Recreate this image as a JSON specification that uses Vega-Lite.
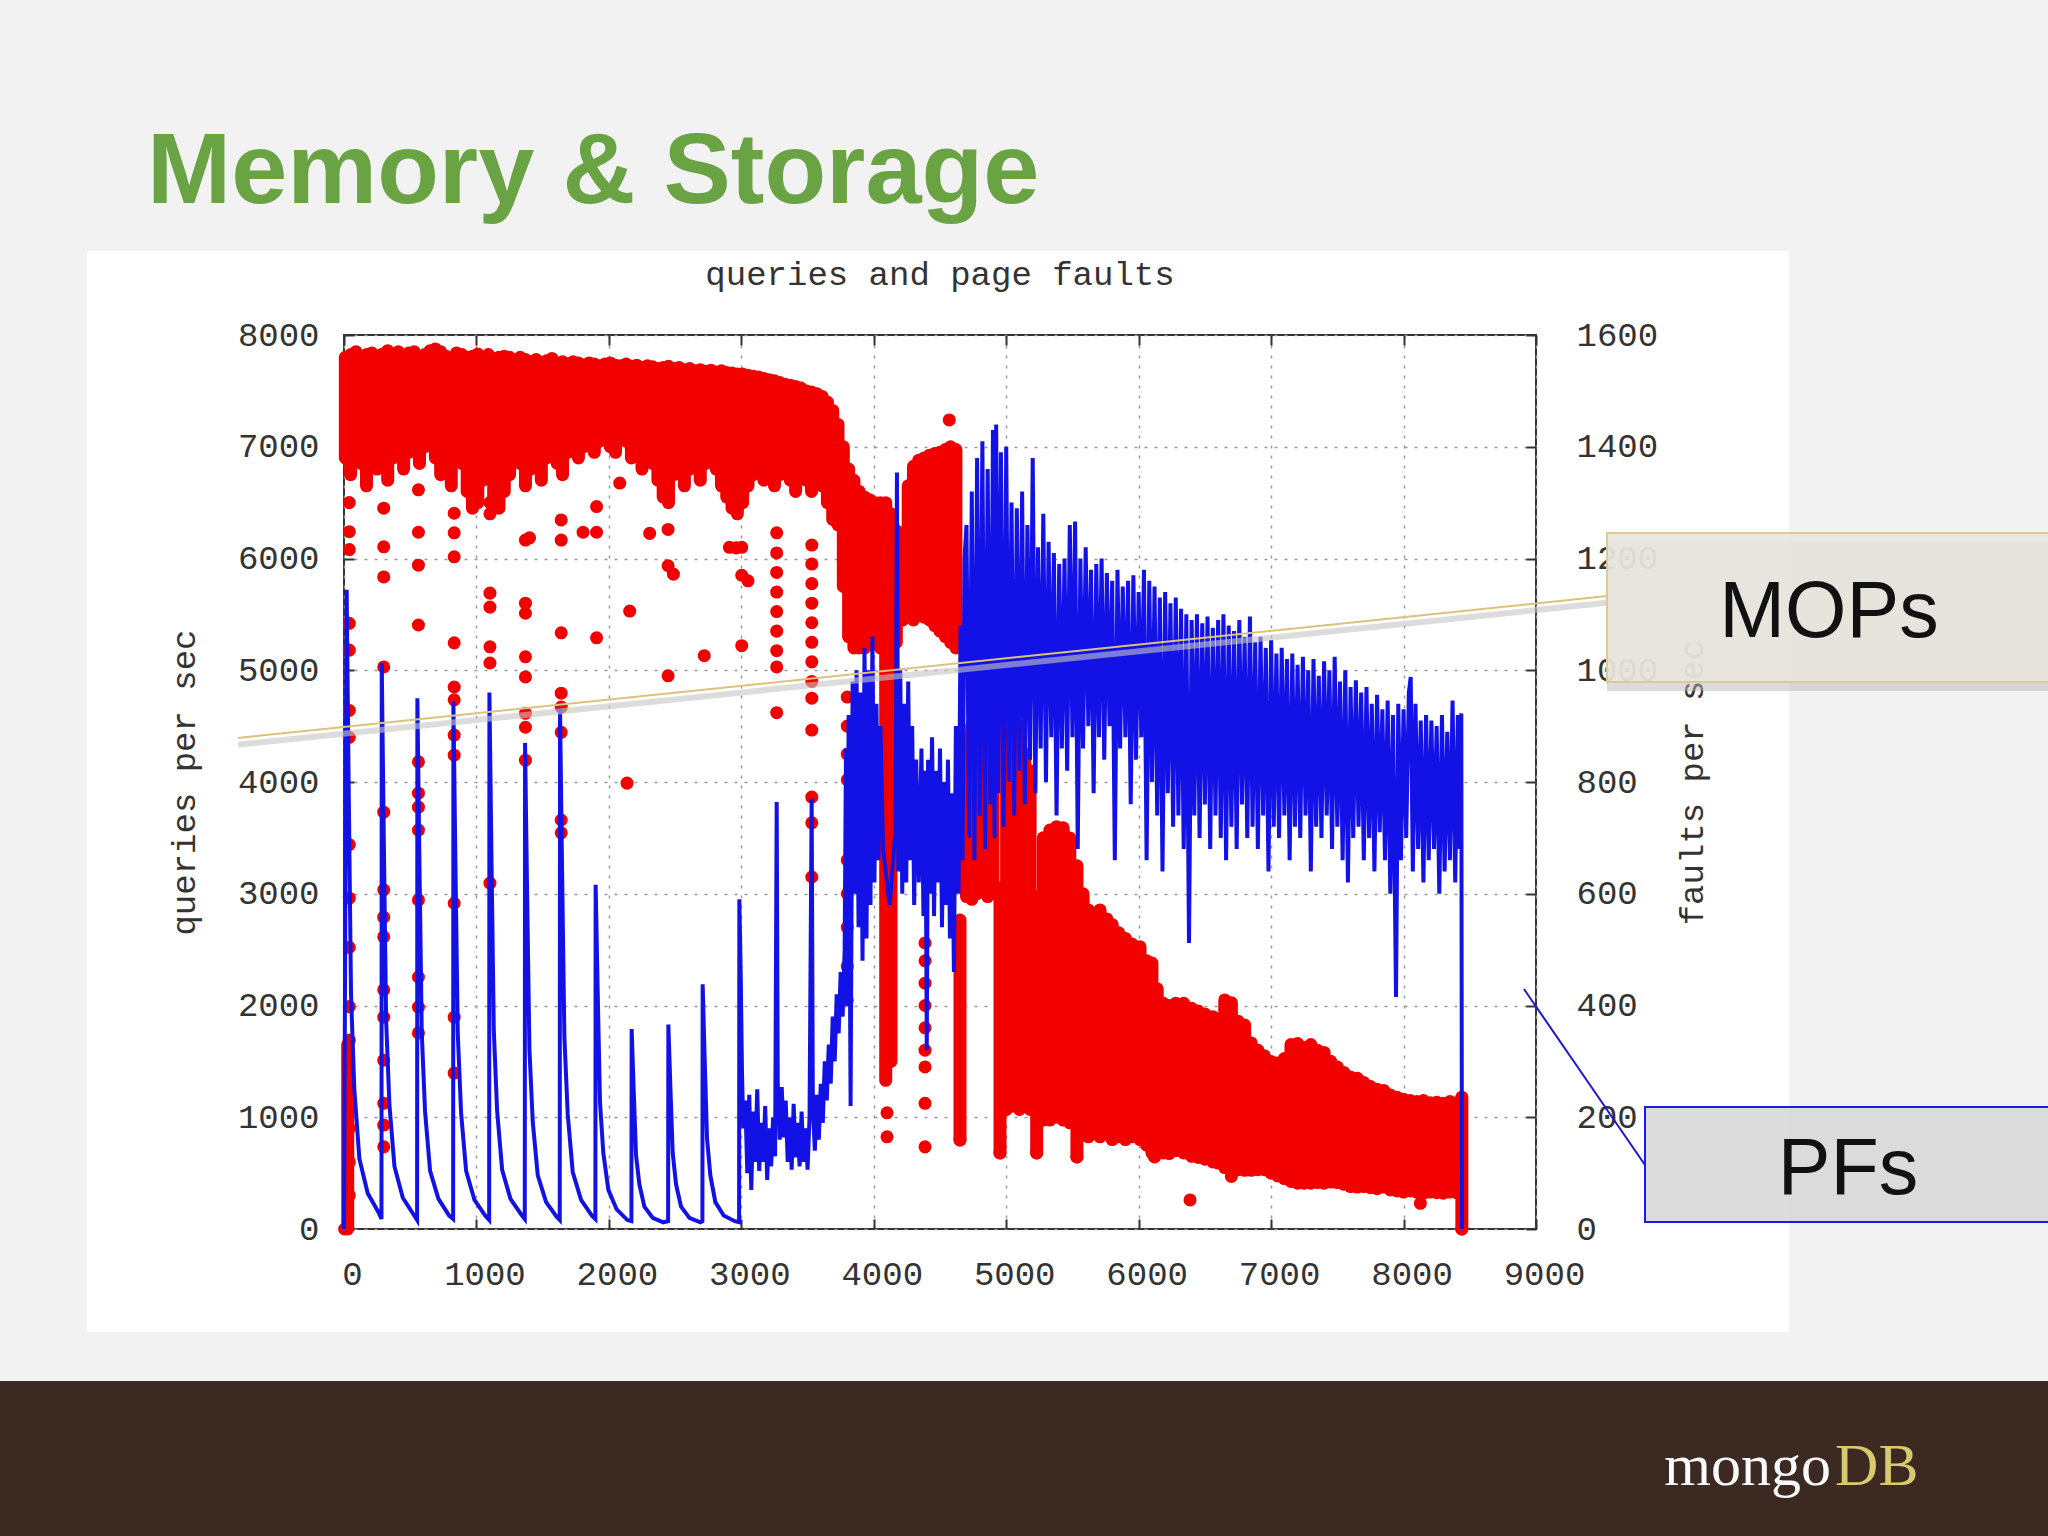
{
  "$schema": "https://vega.github.io/schema/vega-lite/v6.json",
  "width": 1192,
  "height": 894,
  "autosize": {"type": "none"},
  "padding": {"left": 344, "top": 335, "right": 512, "bottom": 307},
  "background": "#ffffff",
  "config": {
    "view": {"stroke": "#333333", "strokeWidth": 2, "fill": "#ffffff"},
    "axis": {
      "labelFont": "Liberation Mono",
      "labelFontSize": 34,
      "labelColor": "#333333",
      "labelFlush": false,
      "titleFont": "Liberation Mono",
      "titleFontSize": 34,
      "titleFontWeight": "normal",
      "titleColor": "#333333",
      "domain": false,
      "format": "d",
      "tickSize": -10,
      "tickWidth": 2,
      "tickColor": "#333333",
      "gridColor": "#9a9a9a",
      "gridDash": [3, 7],
      "gridWidth": 1.5,
      "gridOpacity": 1
    }
  },
  "datasets": {
    "queries": [
      {"t":0,"q":0},{"t":20,"q":5720},{"t":35,"q":4000},{"t":53,"q":2100},{"t":78,"q":1250},{"t":116,"q":630},{"t":179,"q":320},{"t":260,"q":150},
      {"t":283,"q":90},{"t":285,"q":5060},{"t":300,"q":3540},{"t":318,"q":1870},{"t":343,"q":1110},{"t":381,"q":560},{"t":444,"q":280},{"t":525,"q":130},
      {"t":552,"q":80},{"t":554,"q":4750},{"t":569,"q":3330},{"t":587,"q":1760},{"t":612,"q":1050},{"t":650,"q":520},{"t":713,"q":270},{"t":794,"q":120},
      {"t":824,"q":90},{"t":826,"q":4720},{"t":841,"q":3300},{"t":859,"q":1750},{"t":884,"q":1040},{"t":922,"q":520},{"t":985,"q":260},{"t":1066,"q":120},
      {"t":1096,"q":80},{"t":1098,"q":4800},{"t":1113,"q":3360},{"t":1131,"q":1780},{"t":1156,"q":1060},{"t":1194,"q":530},{"t":1257,"q":270},{"t":1338,"q":130},
      {"t":1365,"q":90},{"t":1367,"q":4350},{"t":1382,"q":3050},{"t":1400,"q":1610},{"t":1425,"q":960},{"t":1463,"q":480},{"t":1526,"q":240},{"t":1605,"q":110},
      {"t":1629,"q":80},{"t":1631,"q":4660},{"t":1646,"q":3260},{"t":1664,"q":1720},{"t":1689,"q":1030},{"t":1727,"q":510},{"t":1790,"q":260},{"t":1872,"q":120},
      {"t":1898,"q":90},{"t":1900,"q":3080},{"t":1915,"q":2150},{"t":1933,"q":1130},{"t":1958,"q":680},{"t":1996,"q":350},{"t":2059,"q":175},{"t":2140,"q":80},
      {"t":2170,"q":70},{"t":2172,"q":1790},{"t":2187,"q":1250},{"t":2205,"q":660},{"t":2230,"q":400},{"t":2268,"q":200},{"t":2331,"q":100},{"t":2410,"q":60},
      {"t":2447,"q":70},{"t":2449,"q":1830},{"t":2464,"q":1280},{"t":2482,"q":680},{"t":2507,"q":400},{"t":2545,"q":200},{"t":2608,"q":100},{"t":2690,"q":60},
      {"t":2706,"q":70},{"t":2708,"q":2190},{"t":2723,"q":1530},{"t":2741,"q":810},{"t":2766,"q":480},{"t":2804,"q":240},{"t":2867,"q":120},{"t":2950,"q":70},
      {"t":2983,"q":60},{"t":2985,"q":2950},{"t":2995,"q":2300},{"t":3005,"q":1400},{"t":3015,"q":900},{"t":3030,"q":1150},{"t":3045,"q":500},{"t":3060,"q":1200},
      {"t":3075,"q":350},{"t":3090,"q":1050},{"t":3105,"q":600},{"t":3120,"q":1250},{"t":3135,"q":520},{"t":3150,"q":950},{"t":3165,"q":600},{"t":3180,"q":1100},
      {"t":3195,"q":440},{"t":3210,"q":900},{"t":3225,"q":560},{"t":3240,"q":1000},{"t":3255,"q":650},{"t":3267,"q":3820},{"t":3275,"q":1300},{"t":3290,"q":800},
      {"t":3305,"q":1270},{"t":3320,"q":820},{"t":3335,"q":1150},{"t":3350,"q":600},{"t":3365,"q":1000},{"t":3380,"q":530},{"t":3395,"q":1120},{"t":3410,"q":640},
      {"t":3425,"q":950},{"t":3440,"q":560},{"t":3455,"q":1050},{"t":3470,"q":600},{"t":3485,"q":900},{"t":3500,"q":530},{"t":3515,"q":1000},{"t":3531,"q":3850},
      {"t":3540,"q":1100},{"t":3555,"q":700},{"t":3570,"q":1200},{"t":3585,"q":800},{"t":3600,"q":1300},{"t":3615,"q":950},{"t":3630,"q":1500},{"t":3645,"q":1150},
      {"t":3660,"q":1650},{"t":3675,"q":1300},{"t":3690,"q":1900},{"t":3705,"q":1500},{"t":3720,"q":2100},{"t":3735,"q":1750},{"t":3750,"q":2300},{"t":3765,"q":1900},
      {"t":3780,"q":2500},{"t":3790,"q":4300},{"t":3800,"q":2000},{"t":3810,"q":4600},{"t":3825,"q":1100},{"t":3840,"q":4900},{"t":3855,"q":3000},{"t":3870,"q":5000},
      {"t":3885,"q":2700},{"t":3900,"q":4800},{"t":3915,"q":2400},{"t":3930,"q":5200},{"t":3945,"q":2600},{"t":3960,"q":5000},{"t":3975,"q":2900},{"t":3990,"q":5300},
      {"t":4005,"q":3100},{"t":4020,"q":4700},{"t":4035,"q":3300},{"t":4050,"q":4500},{"t":4070,"q":3400},{"t":4120,"q":2900},{"t":4165,"q":3600},{"t":4175,"q":6770},
      {"t":4185,"q":3200},{"t":4200,"q":5000},{"t":4215,"q":3000},{"t":4230,"q":4700},{"t":4245,"q":3100},{"t":4260,"q":4900},{"t":4275,"q":3300},{"t":4290,"q":4500},
      {"t":4305,"q":2900},{"t":4320,"q":4200},{"t":4340,"q":3100},{"t":4360,"q":4300},{"t":4375,"q":2800},{"t":4390,"q":4100},{"t":4400,"q":1600},{"t":4410,"q":4200},
      {"t":4425,"q":3000},{"t":4440,"q":4400},{"t":4455,"q":2800},{"t":4470,"q":4100},{"t":4485,"q":3100},{"t":4500,"q":4300},{"t":4515,"q":2700},{"t":4530,"q":4000},
      {"t":4545,"q":2900},{"t":4560,"q":4200},{"t":4575,"q":2600},{"t":4590,"q":3900},{"t":4605,"q":2300},{"t":4620,"q":4500},{"t":4640,"q":3000},{"t":4655,"q":5400},
      {"t":4670,"q":3300},{"t":4685,"q":6000},
      {"t":4700,"q":6300},{"t":4720,"q":3500},{"t":4740,"q":6600},{"t":4760,"q":3300},{"t":4780,"q":6900},{"t":4800,"q":3700},{"t":4820,"q":7050},{"t":4840,"q":3400},
      {"t":4860,"q":6800},{"t":4880,"q":3800},{"t":4900,"q":7150},{"t":4912,"q":3500},{"t":4924,"q":7200},{"t":4940,"q":3900},{"t":4960,"q":6950},{"t":4980,"q":3600},
      {"t":5000,"q":7000},{"t":5020,"q":4000},{"t":5040,"q":6500},{"t":5060,"q":3700},{"t":5080,"q":6450},{"t":5100,"q":4100},{"t":5120,"q":6600},{"t":5140,"q":3800},
      {"t":5160,"q":6300},{"t":5180,"q":4200},{"t":5200,"q":6900},{"t":5220,"q":3900},{"t":5240,"q":6100},{"t":5260,"q":4300},{"t":5280,"q":6400},{"t":5300,"q":4000},
      {"t":5320,"q":6150},{"t":5340,"q":4400},{"t":5360,"q":6050},{"t":5380,"q":3700},{"t":5400,"q":5950},{"t":5420,"q":4300},{"t":5440,"q":6000},{"t":5460,"q":4100},
      {"t":5480,"q":6300},{"t":5500,"q":4400},{"t":5520,"q":6330},{"t":5540,"q":3400},{"t":5560,"q":6000},{"t":5580,"q":4300},{"t":5600,"q":6100},{"t":5620,"q":4500},
      {"t":5640,"q":5900},{"t":5660,"q":3900},{"t":5680,"q":5950},{"t":5700,"q":4400},{"t":5720,"q":6000},{"t":5740,"q":4200},{"t":5760,"q":5870},{"t":5780,"q":4500},
      {"t":5800,"q":5800},{"t":5820,"q":3300},{"t":5840,"q":5900},{"t":5860,"q":4300},{"t":5880,"q":5750},{"t":5900,"q":4400},{"t":5920,"q":5800},{"t":5940,"q":3800},
      {"t":5960,"q":5850},{"t":5980,"q":4200},{"t":6000,"q":5700},{"t":6020,"q":4400},{"t":6040,"q":5900},{"t":6060,"q":3300},{"t":6080,"q":5800},{"t":6100,"q":4000},
      {"t":6120,"q":5750},{"t":6140,"q":3700},{"t":6160,"q":5650},{"t":6180,"q":3200},{"t":6200,"q":5700},{"t":6220,"q":3900},{"t":6240,"q":5600},{"t":6260,"q":3600},
      {"t":6280,"q":5650},{"t":6300,"q":3700},{"t":6320,"q":5550},{"t":6340,"q":3400},{"t":6360,"q":5500},{"t":6380,"q":2560},{"t":6400,"q":5450},{"t":6420,"q":3700},
      {"t":6440,"q":5500},{"t":6460,"q":3500},{"t":6480,"q":5420},{"t":6500,"q":3800},{"t":6520,"q":5480},{"t":6540,"q":3400},{"t":6560,"q":5380},{"t":6580,"q":3700},
      {"t":6600,"q":5450},{"t":6620,"q":3500},{"t":6640,"q":5500},{"t":6660,"q":3300},{"t":6680,"q":5400},{"t":6700,"q":3600},{"t":6720,"q":5350},{"t":6740,"q":3400},
      {"t":6760,"q":5450},{"t":6780,"q":3800},{"t":6800,"q":5300},{"t":6820,"q":3500},{"t":6840,"q":5480},{"t":6860,"q":3600},{"t":6880,"q":5250},{"t":6900,"q":3400},
      {"t":6920,"q":5300},{"t":6940,"q":3700},{"t":6960,"q":5200},{"t":6980,"q":3200},{"t":7000,"q":5270},{"t":7020,"q":3600},{"t":7040,"q":5150},{"t":7060,"q":3500},
      {"t":7080,"q":5200},{"t":7100,"q":3700},{"t":7120,"q":5100},{"t":7140,"q":3300},{"t":7160,"q":5150},{"t":7180,"q":3600},{"t":7200,"q":5050},{"t":7220,"q":3500},
      {"t":7240,"q":5120},{"t":7260,"q":3700},{"t":7280,"q":5000},{"t":7300,"q":3200},{"t":7320,"q":5100},{"t":7340,"q":3600},{"t":7360,"q":4950},{"t":7380,"q":3500},
      {"t":7400,"q":5080},{"t":7420,"q":3700},{"t":7440,"q":5000},{"t":7460,"q":3400},{"t":7480,"q":5120},{"t":7500,"q":3600},{"t":7520,"q":4900},{"t":7540,"q":3300},
      {"t":7560,"q":5000},{"t":7580,"q":3100},{"t":7600,"q":4850},{"t":7620,"q":3500},{"t":7640,"q":4910},{"t":7660,"q":3600},{"t":7680,"q":4800},{"t":7700,"q":3300},
      {"t":7720,"q":4850},{"t":7740,"q":3500},{"t":7760,"q":4700},{"t":7780,"q":3200},{"t":7800,"q":4780},{"t":7820,"q":3550},{"t":7840,"q":4650},{"t":7860,"q":3300},
      {"t":7880,"q":4730},{"t":7900,"q":3000},{"t":7920,"q":4600},{"t":7943,"q":2076},{"t":7960,"q":4700},{"t":7980,"q":3300},{"t":8000,"q":4650},{"t":8020,"q":3500},
      {"t":8040,"q":4800},{"t":8054,"q":4940},{"t":8070,"q":3200},{"t":8090,"q":4700},{"t":8110,"q":3400},{"t":8130,"q":4550},{"t":8150,"q":3100},{"t":8170,"q":4600},
      {"t":8190,"q":3300},{"t":8210,"q":4550},{"t":8230,"q":3400},{"t":8250,"q":4500},{"t":8270,"q":3000},{"t":8290,"q":4600},{"t":8310,"q":3200},{"t":8330,"q":4450},
      {"t":8350,"q":3300},{"t":8370,"q":4730},{"t":8390,"q":3100},{"t":8410,"q":4600},{"t":8425,"q":3400},{"t":8436,"q":4614},{"t":8441,"q":0}
    ],
    "faultRange": [
      {"t":28,"lo":0,"hi":330},
      {"t":10,"lo":1380,"hi":1560},{"t":50,"lo":1350,"hi":1565},{"t":90,"lo":1400,"hi":1570},{"t":130,"lo":1370,"hi":1560},{"t":170,"lo":1330,"hi":1565},
      {"t":210,"lo":1390,"hi":1568},{"t":250,"lo":1360,"hi":1560},{"t":290,"lo":1400,"hi":1566},{"t":330,"lo":1340,"hi":1572},{"t":370,"lo":1380,"hi":1565},
      {"t":410,"lo":1410,"hi":1570},{"t":450,"lo":1360,"hi":1562},{"t":490,"lo":1390,"hi":1568},{"t":530,"lo":1420,"hi":1570},{"t":570,"lo":1370,"hi":1560},
      {"t":610,"lo":1400,"hi":1565},{"t":650,"lo":1430,"hi":1572},{"t":690,"lo":1380,"hi":1575},{"t":730,"lo":1350,"hi":1570},{"t":770,"lo":1390,"hi":1562},
      {"t":810,"lo":1330,"hi":1560},{"t":850,"lo":1400,"hi":1568},{"t":890,"lo":1370,"hi":1565},{"t":930,"lo":1320,"hi":1560},{"t":970,"lo":1290,"hi":1562},
      {"t":1010,"lo":1300,"hi":1566},{"t":1050,"lo":1340,"hi":1560},{"t":1090,"lo":1380,"hi":1565},{"t":1130,"lo":1310,"hi":1558},{"t":1170,"lo":1290,"hi":1560},
      {"t":1210,"lo":1320,"hi":1562},{"t":1250,"lo":1350,"hi":1560},{"t":1290,"lo":1390,"hi":1555},{"t":1330,"lo":1370,"hi":1560},{"t":1370,"lo":1330,"hi":1556},
      {"t":1410,"lo":1360,"hi":1552},{"t":1450,"lo":1390,"hi":1556},{"t":1490,"lo":1340,"hi":1550},{"t":1530,"lo":1380,"hi":1554},{"t":1570,"lo":1410,"hi":1558},
      {"t":1610,"lo":1370,"hi":1550},{"t":1650,"lo":1350,"hi":1552},{"t":1690,"lo":1390,"hi":1548},{"t":1730,"lo":1420,"hi":1552},{"t":1770,"lo":1380,"hi":1550},
      {"t":1810,"lo":1400,"hi":1546},{"t":1850,"lo":1430,"hi":1550},{"t":1890,"lo":1390,"hi":1548},{"t":1930,"lo":1410,"hi":1545},{"t":1970,"lo":1430,"hi":1548},
      {"t":2010,"lo":1400,"hi":1550},{"t":2050,"lo":1390,"hi":1546},{"t":2090,"lo":1420,"hi":1545},{"t":2130,"lo":1410,"hi":1548},{"t":2170,"lo":1380,"hi":1544},
      {"t":2210,"lo":1400,"hi":1546},{"t":2250,"lo":1360,"hi":1542},{"t":2290,"lo":1390,"hi":1545},{"t":2330,"lo":1370,"hi":1543},{"t":2370,"lo":1340,"hi":1540},
      {"t":2410,"lo":1310,"hi":1542},{"t":2450,"lo":1300,"hi":1544},{"t":2490,"lo":1350,"hi":1540},{"t":2530,"lo":1380,"hi":1542},{"t":2570,"lo":1330,"hi":1538},
      {"t":2610,"lo":1360,"hi":1540},{"t":2650,"lo":1390,"hi":1536},{"t":2690,"lo":1340,"hi":1538},{"t":2730,"lo":1370,"hi":1535},{"t":2770,"lo":1400,"hi":1537},
      {"t":2810,"lo":1360,"hi":1534},{"t":2850,"lo":1330,"hi":1536},{"t":2890,"lo":1310,"hi":1533},{"t":2930,"lo":1290,"hi":1532},{"t":2970,"lo":1280,"hi":1530},
      {"t":3010,"lo":1300,"hi":1530},{"t":3050,"lo":1330,"hi":1528},{"t":3090,"lo":1350,"hi":1526},{"t":3130,"lo":1380,"hi":1525},{"t":3170,"lo":1340,"hi":1522},
      {"t":3210,"lo":1360,"hi":1520},{"t":3250,"lo":1330,"hi":1518},{"t":3290,"lo":1350,"hi":1515},{"t":3330,"lo":1380,"hi":1512},{"t":3370,"lo":1340,"hi":1510},
      {"t":3410,"lo":1320,"hi":1508},{"t":3450,"lo":1360,"hi":1505},{"t":3490,"lo":1340,"hi":1500},{"t":3530,"lo":1320,"hi":1498},{"t":3570,"lo":1350,"hi":1495},
      {"t":3610,"lo":1330,"hi":1490},{"t":3650,"lo":1300,"hi":1480},{"t":3690,"lo":1270,"hi":1465},{"t":3730,"lo":1260,"hi":1440},{"t":3770,"lo":1150,"hi":1400},
      {"t":3810,"lo":1060,"hi":1360},{"t":3850,"lo":1040,"hi":1340},{"t":3890,"lo":1040,"hi":1320},{"t":3930,"lo":1040,"hi":1310},{"t":3970,"lo":1045,"hi":1305},
      {"t":4010,"lo":1050,"hi":1300},{"t":4050,"lo":1040,"hi":1300},{"t":4090,"lo":266,"hi":1300},{"t":4130,"lo":300,"hi":1280},{"t":4170,"lo":1050,"hi":1250},
      {"t":4220,"lo":1090,"hi":1220},{"t":4260,"lo":1100,"hi":1330},{"t":4300,"lo":1090,"hi":1365},{"t":4340,"lo":1100,"hi":1376},{"t":4380,"lo":1095,"hi":1380},
      {"t":4420,"lo":1090,"hi":1385},{"t":4460,"lo":1080,"hi":1388},{"t":4500,"lo":1070,"hi":1390},{"t":4540,"lo":1060,"hi":1395},{"t":4580,"lo":1050,"hi":1400},
      {"t":4620,"lo":1040,"hi":1395},{"t":4651,"lo":160,"hi":553},
      {"t":4700,"lo":595,"hi":880},{"t":4740,"lo":590,"hi":900},{"t":4780,"lo":600,"hi":910},{"t":4820,"lo":610,"hi":890},{"t":4860,"lo":595,"hi":870},
      {"t":4900,"lo":600,"hi":860},{"t":4953,"lo":136,"hi":610},{"t":5003,"lo":214,"hi":960},{"t":5050,"lo":220,"hi":960},{"t":5100,"lo":214,"hi":900},
      {"t":5140,"lo":230,"hi":850},{"t":5180,"lo":214,"hi":820},{"t":5230,"lo":136,"hi":595},{"t":5280,"lo":195,"hi":700},{"t":5330,"lo":195,"hi":714},
      {"t":5380,"lo":200,"hi":720},{"t":5430,"lo":195,"hi":718},{"t":5480,"lo":190,"hi":700},{"t":5534,"lo":129,"hi":650},{"t":5580,"lo":170,"hi":600},
      {"t":5620,"lo":165,"hi":571},{"t":5660,"lo":170,"hi":565},{"t":5708,"lo":165,"hi":571},{"t":5760,"lo":170,"hi":555},{"t":5800,"lo":160,"hi":545},
      {"t":5850,"lo":165,"hi":530},{"t":5900,"lo":160,"hi":520},{"t":5950,"lo":165,"hi":510},{"t":6010,"lo":160,"hi":505},{"t":6060,"lo":150,"hi":480},
      {"t":6100,"lo":136,"hi":476},{"t":6140,"lo":140,"hi":430},{"t":6186,"lo":136,"hi":404},{"t":6230,"lo":135,"hi":400},{"t":6280,"lo":140,"hi":404},
      {"t":6340,"lo":136,"hi":404},{"t":6400,"lo":130,"hi":395},{"t":6450,"lo":128,"hi":390},{"t":6500,"lo":125,"hi":385},{"t":6560,"lo":120,"hi":380},
      {"t":6600,"lo":118,"hi":375},{"t":6650,"lo":110,"hi":410},{"t":6700,"lo":108,"hi":405},{"t":6750,"lo":106,"hi":372},{"t":6800,"lo":105,"hi":365},
      {"t":6850,"lo":105,"hi":333},{"t":6900,"lo":106,"hi":320},{"t":6950,"lo":106,"hi":310},{"t":7000,"lo":100,"hi":300},{"t":7050,"lo":95,"hi":297},
      {"t":7100,"lo":90,"hi":305},{"t":7150,"lo":85,"hi":330},{"t":7200,"lo":82,"hi":332},{"t":7250,"lo":82,"hi":325},{"t":7300,"lo":82,"hi":330},
      {"t":7350,"lo":83,"hi":320},{"t":7400,"lo":82,"hi":316},{"t":7450,"lo":84,"hi":300},{"t":7500,"lo":83,"hi":290},{"t":7550,"lo":80,"hi":280},
      {"t":7600,"lo":76,"hi":272},{"t":7650,"lo":75,"hi":270},{"t":7700,"lo":76,"hi":262},{"t":7750,"lo":74,"hi":255},{"t":7800,"lo":72,"hi":250},
      {"t":7850,"lo":75,"hi":248},{"t":7900,"lo":70,"hi":240},{"t":7950,"lo":68,"hi":236},{"t":8000,"lo":66,"hi":232},{"t":8050,"lo":68,"hi":230},
      {"t":8100,"lo":66,"hi":228},{"t":8150,"lo":64,"hi":230},{"t":8200,"lo":66,"hi":226},{"t":8250,"lo":65,"hi":227},{"t":8300,"lo":64,"hi":225},
      {"t":8350,"lo":66,"hi":228},{"t":8400,"lo":65,"hi":226},{"t":8440,"lo":0,"hi":236}
    ],
    "faultPoints": [
      {"t":5,"f":0},
      {"t":40,"f":1300},{"t":40,"f":1248},{"t":40,"f":1216},{"t":40,"f":1084},{"t":40,"f":1036},{"t":40,"f":928},{"t":40,"f":880},{"t":40,"f":688},
      {"t":40,"f":592},{"t":40,"f":504},{"t":40,"f":398},{"t":40,"f":338},{"t":40,"f":236},{"t":40,"f":180},{"t":40,"f":120},{"t":40,"f":60},
      {"t":300,"f":1290},{"t":300,"f":1221},{"t":300,"f":1167},{"t":300,"f":1006},{"t":300,"f":746},{"t":300,"f":607},{"t":300,"f":558},{"t":300,"f":523},
      {"t":300,"f":428},{"t":300,"f":379},{"t":300,"f":302},{"t":300,"f":225},{"t":300,"f":186},{"t":300,"f":147},
      {"t":562,"f":1323},{"t":562,"f":1247},{"t":562,"f":1188},{"t":562,"f":1081},{"t":562,"f":836},{"t":562,"f":780},{"t":562,"f":755},{"t":562,"f":714},
      {"t":562,"f":589},{"t":562,"f":451},{"t":562,"f":397},{"t":562,"f":351},
      {"t":832,"f":1281},{"t":832,"f":1246},{"t":832,"f":1203},{"t":832,"f":1049},{"t":832,"f":970},{"t":832,"f":947},{"t":832,"f":884},{"t":832,"f":848},
      {"t":832,"f":583},{"t":832,"f":379},{"t":832,"f":279},
      {"t":1102,"f":1300},{"t":1102,"f":1280},{"t":1102,"f":1138},{"t":1102,"f":1113},{"t":1102,"f":1042},{"t":1102,"f":1013},{"t":1102,"f":619},
      {"t":1370,"f":1233},{"t":1370,"f":1120},{"t":1370,"f":1102},{"t":1370,"f":1024},{"t":1370,"f":988},{"t":1370,"f":923},{"t":1370,"f":898},{"t":1370,"f":839},
      {"t":1401,"f":1237},
      {"t":1640,"f":1269},{"t":1640,"f":1233},{"t":1640,"f":1067},{"t":1640,"f":959},{"t":1640,"f":934},{"t":1640,"f":889},{"t":1640,"f":732},{"t":1640,"f":709},
      {"t":1805,"f":1247},{"t":1907,"f":1293},{"t":1907,"f":1247},{"t":1907,"f":1058},{"t":2082,"f":1335},{"t":2157,"f":1106},{"t":2137,"f":798},
      {"t":2308,"f":1245},{"t":2447,"f":1252},{"t":2447,"f":1187},{"t":2447,"f":990},{"t":2487,"f":1172},{"t":2720,"f":1026},{"t":2910,"f":1220},
      {"t":2960,"f":1219},{"t":3003,"f":1220},{"t":3003,"f":1170},{"t":3003,"f":1044},{"t":3050,"f":1160},
      {"t":3267,"f":1246},{"t":3267,"f":1210},{"t":3267,"f":1175},{"t":3267,"f":1140},{"t":3267,"f":1105},{"t":3267,"f":1070},{"t":3267,"f":1035},
      {"t":3267,"f":1006},{"t":3267,"f":924},
      {"t":3532,"f":1224},{"t":3532,"f":1190},{"t":3532,"f":1155},{"t":3532,"f":1120},{"t":3532,"f":1085},{"t":3532,"f":1050},{"t":3532,"f":1015},
      {"t":3532,"f":980},{"t":3532,"f":950},{"t":3532,"f":893},{"t":3532,"f":773},{"t":3532,"f":727},{"t":3532,"f":630},
      {"t":3800,"f":952},{"t":3800,"f":900},{"t":3800,"f":850},{"t":3800,"f":804},{"t":3800,"f":660},{"t":3800,"f":600},{"t":3800,"f":540},
      {"t":3800,"f":470},{"t":3800,"f":410},
      {"t":4100,"f":208},{"t":4100,"f":165},
      {"t":4387,"f":512},{"t":4387,"f":480},{"t":4387,"f":440},{"t":4387,"f":400},{"t":4387,"f":360},{"t":4387,"f":320},{"t":4387,"f":290},
      {"t":4387,"f":225},{"t":4387,"f":147},
      {"t":4570,"f":1448},{"t":4651,"f":159},{"t":4953,"f":136},{"t":5230,"f":136},{"t":5534,"f":129},{"t":6120,"f":129},
      {"t":6388,"f":52},{"t":6700,"f":94},{"t":8127,"f":46},{"t":8440,"f":0}
    ]
  },
  "layer": [
    {
      "data": {"values": [{"part": "slide"}]},
      "mark": {"type": "rect", "color": "#f2f2f2"},
      "encoding": {
        "x": {"datum": -2700, "type": "quantitative", "axis": null},
        "x2": {"datum": 13200},
        "y": {"datum": 8752, "type": "quantitative", "scale": {"domain": [0, 8000], "nice": false}, "axis": null},
        "y2": {"datum": 11500}
      }
    },
    {
      "data": {"values": [{"part": "slide"}]},
      "mark": {"type": "rect", "color": "#f2f2f2"},
      "encoding": {
        "x": {"datum": -2700, "type": "quantitative", "axis": null},
        "x2": {"datum": -1940},
        "y": {"datum": -1400, "type": "quantitative", "scale": {"domain": [0, 8000], "nice": false}, "axis": null},
        "y2": {"datum": 8752}
      }
    },
    {
      "data": {"values": [{"part": "slide"}]},
      "mark": {"type": "rect", "color": "#f2f2f2"},
      "encoding": {
        "x": {"datum": 10910, "type": "quantitative", "axis": null},
        "x2": {"datum": 13200},
        "y": {"datum": -1400, "type": "quantitative", "scale": {"domain": [0, 8000], "nice": false}, "axis": null},
        "y2": {"datum": 8752}
      }
    },
    {
      "data": {"values": [{"part": "slide"}]},
      "mark": {"type": "rect", "color": "#f2f2f2"},
      "encoding": {
        "x": {"datum": -1940, "type": "quantitative", "axis": null},
        "x2": {"datum": 10910},
        "y": {"datum": -1400, "type": "quantitative", "scale": {"domain": [0, 8000], "nice": false}, "axis": null},
        "y2": {"datum": -922}
      }
    },
    {
      "data": {"values": [{"part": "footer"}]},
      "mark": {"type": "rect", "color": "#3c2a22"},
      "encoding": {
        "x": {"datum": -2700, "type": "quantitative", "axis": null},
        "x2": {"datum": 13200},
        "y": {"datum": -3300, "type": "quantitative", "scale": {"domain": [0, 8000], "nice": false}, "axis": null},
        "y2": {"datum": -1360}
      }
    },
    {
      "data": {"values": [{"label": "mongo"}]},
      "mark": {"type": "text", "align": "right", "baseline": "alphabetic", "font": "Liberation Serif", "fontSize": 60, "color": "#fafafa"},
      "encoding": {
        "text": {"field": "label"},
        "x": {"datum": 11227, "type": "quantitative", "axis": null},
        "y": {"datum": -2291, "type": "quantitative", "scale": {"domain": [0, 8000], "nice": false}, "axis": null}
      }
    },
    {
      "data": {"values": [{"label": "DB"}]},
      "mark": {"type": "text", "align": "left", "baseline": "alphabetic", "font": "Liberation Serif", "fontSize": 60, "color": "#d9c96e"},
      "encoding": {
        "text": {"field": "label"},
        "x": {"datum": 11258, "type": "quantitative", "axis": null},
        "y": {"datum": -2291, "type": "quantitative", "scale": {"domain": [0, 8000], "nice": false}, "axis": null}
      }
    },
    {
      "data": {"values": [{"label": "Memory & Storage"}]},
      "mark": {"type": "text", "align": "left", "baseline": "alphabetic", "font": "Liberation Sans", "fontWeight": "bold", "fontSize": 101, "color": "#6aa343"},
      "encoding": {
        "text": {"field": "label"},
        "x": {"datum": -1487, "type": "quantitative", "axis": null},
        "y": {"datum": 9181, "type": "quantitative", "scale": {"domain": [0, 8000], "nice": false}, "axis": null}
      }
    },
    {
      "data": {"values": [{"label": "queries and page faults"}]},
      "mark": {"type": "text", "align": "center", "baseline": "alphabetic", "font": "Liberation Mono", "fontSize": 34, "color": "#333333"},
      "encoding": {
        "text": {"field": "label"},
        "x": {"datum": 4500, "type": "quantitative", "axis": null},
        "y": {"datum": 8447, "type": "quantitative", "scale": {"domain": [0, 8000], "nice": false}, "axis": null}
      }
    },
    {
      "data": {"name": "faultRange"},
      "mark": {"type": "rule", "color": "#f20000", "strokeWidth": 13, "strokeCap": "round"},
      "encoding": {
        "x": {"field": "t", "type": "quantitative", "scale": {"domain": [0, 9000], "nice": false}, "axis": null},
        "y": {
          "field": "lo",
          "type": "quantitative",
          "scale": {"domain": [0, 1600], "nice": false},
          "axis": {
            "orient": "right",
            "values": [0, 200, 400, 600, 800, 1000, 1200, 1400, 1600],
            "title": "faults per sec",
            "titleAngle": 270,
            "titlePadding": 52,
            "labelAlign": "left",
            "labelPadding": 50,
            "grid": false
          }
        },
        "y2": {"field": "hi"}
      }
    },
    {
      "data": {"name": "faultPoints"},
      "mark": {"type": "point", "filled": true, "color": "#f20000", "size": 170, "opacity": 1},
      "encoding": {
        "x": {
          "field": "t",
          "type": "quantitative",
          "scale": {"domain": [0, 9000], "nice": false},
          "axis": {
            "orient": "top",
            "values": [0, 1000, 2000, 3000, 4000, 5000, 6000, 7000, 8000, 9000],
            "labels": false,
            "grid": false,
            "title": null
          }
        },
        "y": {"field": "f", "type": "quantitative", "scale": {"domain": [0, 1600], "nice": false}, "axis": null}
      }
    },
    {
      "data": {"name": "queries"},
      "mark": {"type": "line", "color": "#1212e6", "strokeWidth": 4},
      "encoding": {
        "x": {
          "field": "t",
          "type": "quantitative",
          "scale": {"domain": [0, 9000], "nice": false},
          "axis": {
            "orient": "bottom",
            "values": [0, 1000, 2000, 3000, 4000, 5000, 6000, 7000, 8000, 9000],
            "title": null,
            "grid": true,
            "labelPadding": 38,
            "labelOffset": 8
          }
        },
        "y": {
          "field": "q",
          "type": "quantitative",
          "scale": {"domain": [0, 8000], "nice": false},
          "axis": {
            "orient": "left",
            "values": [0, 1000, 2000, 3000, 4000, 5000, 6000, 7000, 8000],
            "title": "queries per sec",
            "titlePadding": 36,
            "labelPadding": 35,
            "grid": true
          }
        }
      }
    },
    {
      "data": {"values": [{"label": "MOPs"}]},
      "mark": {"type": "rule", "color": "#c4c4c4", "strokeWidth": 6, "opacity": 0.6},
      "encoding": {
        "x": {"datum": 9536, "type": "quantitative", "axis": null},
        "x2": {"datum": -800},
        "y": {"datum": 5604, "type": "quantitative", "scale": {"domain": [0, 8000], "nice": false}, "axis": null},
        "y2": {"datum": 4334}
      }
    },
    {
      "data": {"values": [{"label": "MOPs"}]},
      "mark": {"type": "rule", "color": "#dcc27a", "strokeWidth": 2},
      "encoding": {
        "x": {"datum": 9536, "type": "quantitative", "axis": null},
        "x2": {"datum": -800},
        "y": {"datum": 5664, "type": "quantitative", "scale": {"domain": [0, 8000], "nice": false}, "axis": null},
        "y2": {"datum": 4394}
      }
    },
    {
      "data": {"values": [{"label": "PFs"}]},
      "mark": {"type": "rule", "color": "#1a1acc", "strokeWidth": 2},
      "encoding": {
        "x": {"datum": 8909, "type": "quantitative", "axis": null},
        "x2": {"datum": 9823},
        "y": {"datum": 2148, "type": "quantitative", "scale": {"domain": [0, 8000], "nice": false}, "axis": null},
        "y2": {"datum": 573}
      }
    },
    {
      "data": {"values": [{"label": "MOPs"}]},
      "mark": {"type": "rect", "color": "#b8b8b8", "opacity": 0.5},
      "encoding": {
        "x": {"datum": 9536, "type": "quantitative", "axis": null},
        "x2": {"datum": 13200},
        "y": {"datum": 4815, "type": "quantitative", "scale": {"domain": [0, 8000], "nice": false}, "axis": null},
        "y2": {"datum": 6148}
      }
    },
    {
      "data": {"values": [{"label": "MOPs"}]},
      "mark": {"type": "rect", "fill": "#e8e5dd", "fillOpacity": 0.9, "stroke": "#dccb8a", "strokeWidth": 2},
      "encoding": {
        "x": {"datum": 9536, "type": "quantitative", "axis": null},
        "x2": {"datum": 13200},
        "y": {"datum": 4895, "type": "quantitative", "scale": {"domain": [0, 8000], "nice": false}, "axis": null},
        "y2": {"datum": 6228}
      }
    },
    {
      "data": {"values": [{"label": "PFs"}]},
      "mark": {"type": "rect", "fill": "#d9d9d9", "fillOpacity": 0.92, "stroke": "#1a1aee", "strokeWidth": 2},
      "encoding": {
        "x": {"datum": 9823, "type": "quantitative", "axis": null},
        "x2": {"datum": 13200},
        "y": {"datum": 63, "type": "quantitative", "scale": {"domain": [0, 8000], "nice": false}, "axis": null},
        "y2": {"datum": 1092}
      }
    },
    {
      "data": {"values": [{"label": "MOPs"}]},
      "mark": {"type": "text", "align": "center", "baseline": "alphabetic", "font": "Liberation Sans", "fontSize": 79, "color": "#111111"},
      "encoding": {
        "text": {"field": "label"},
        "x": {"datum": 11212, "type": "quantitative", "axis": null},
        "y": {"datum": 5298, "type": "quantitative", "scale": {"domain": [0, 8000], "nice": false}, "axis": null}
      }
    },
    {
      "data": {"values": [{"label": "PFs"}]},
      "mark": {"type": "text", "align": "center", "baseline": "alphabetic", "font": "Liberation Sans", "fontSize": 79, "color": "#111111"},
      "encoding": {
        "text": {"field": "label"},
        "x": {"datum": 11356, "type": "quantitative", "axis": null},
        "y": {"datum": 313, "type": "quantitative", "scale": {"domain": [0, 8000], "nice": false}, "axis": null}
      }
    }
  ],
  "resolve": {"scale": {"y": "independent"}, "axis": {"x": "independent"}}
}
